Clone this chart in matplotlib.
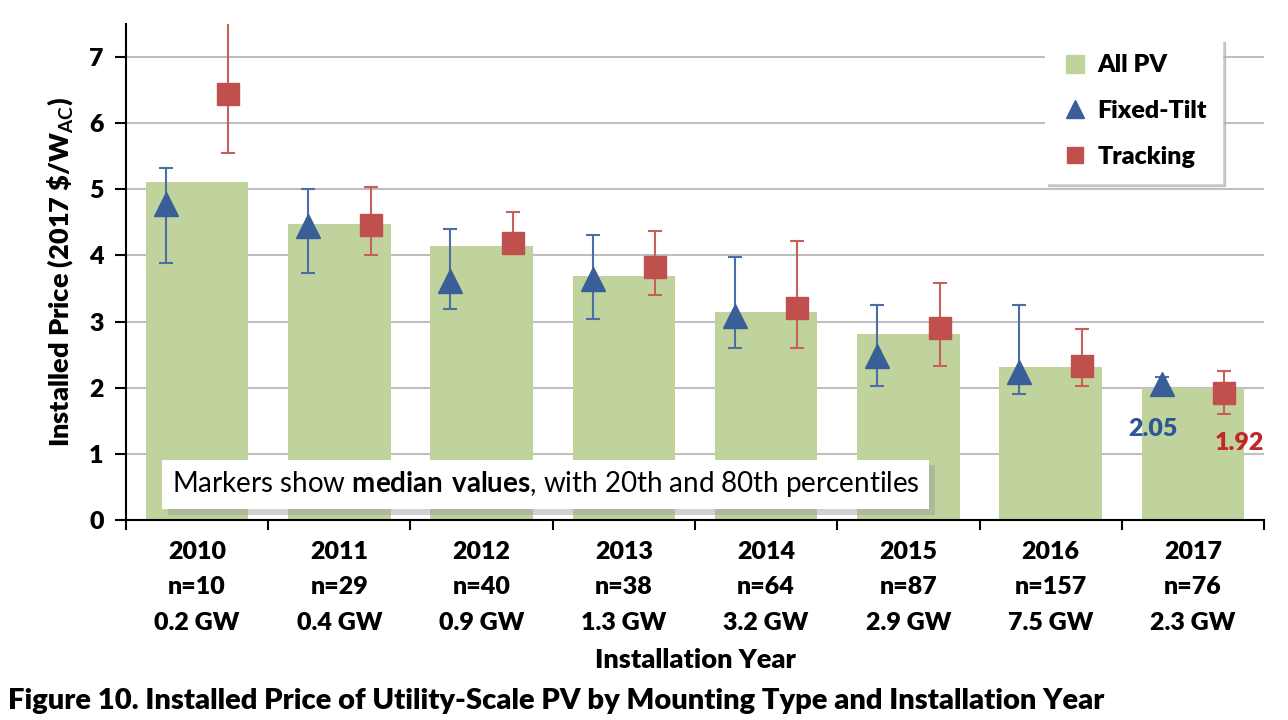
import numpy as np
import matplotlib.pyplot as plt
from matplotlib.lines import Line2D
import matplotlib.patheffects as pe

plt.rcParams['font.family'] = ['Lato', 'DejaVu Sans']
plt.rcParams['mathtext.fontset'] = 'custom'
plt.rcParams['mathtext.rm'] = 'Lato'
plt.rcParams['mathtext.bf'] = 'Lato:bold'

# data
years = ['2010', '2011', '2012', '2013', '2014', '2015', '2016', '2017']
counts = [10, 29, 40, 38, 64, 87, 157, 76]
capacity = ['0.2', '0.4', '0.9', '1.3', '3.2', '2.9', '7.5', '2.3']

all_pv = [5.11, 4.47, 4.14, 3.69, 3.14, 2.81, 2.32, 2.00]

fixed_med = [4.78, 4.45, 3.62, 3.64, 3.09, 2.48, 2.24, 2.05]
fixed_p20 = [3.88, 3.73, 3.19, 3.04, 2.60, 2.03, 1.91, 2.00]
fixed_p80 = [5.32, 5.00, 4.40, 4.31, 3.98, 3.25, 3.25, 2.16]

track_med = [6.44, 4.46, 4.19, 3.82, 3.21, 2.91, 2.33, 1.92]
track_p20 = [5.55, 4.00, 4.12, 3.40, 2.60, 2.33, 2.03, 1.60]
track_p80 = [7.70, 5.04, 4.65, 4.37, 4.22, 3.58, 2.89, 2.25]

GREEN = '#C0D39C'
BLUE = '#3A5F98'
RED = '#C0504D'
W = 'heavy'

fig = plt.figure(figsize=(12.88, 7.2), dpi=100)
ax = fig.add_axes([0.0978, 0.2778, 0.8836, 0.6889])

x = np.arange(len(years))
ax.bar(x, all_pv, width=0.72, color=GREEN, zorder=2)

off = 0.22
fm = np.array(fixed_med)
tm = np.array(track_med)
ax.errorbar(x - off, fm, yerr=[fm - np.array(fixed_p20), np.array(fixed_p80) - fm],
            fmt='^', ms=17, color=BLUE, ecolor='#4A6EA5', elinewidth=1.5,
            capsize=5, capthick=1.5, zorder=4)
ax.errorbar(x + off, tm, yerr=[tm - np.array(track_p20), np.array(track_p80) - tm],
            fmt='s', ms=16, color=RED, ecolor='#C8605A', elinewidth=1.5,
            capsize=5, capthick=1.5, zorder=4)

ax.set_xlim(-0.5, len(years) - 0.5)
ax.set_ylim(0, 7.5)
ax.set_yticks(range(0, 8))
ax.yaxis.grid(True, color='#BFBFBF', linewidth=1.5, zorder=0)
ax.set_axisbelow(True)

ax.set_xticks(x)
ax.set_xticklabels([f'{y}\nn={n}\n{c} GW' for y, n, c in zip(years, counts, capacity)],
                   fontsize=18, fontweight=W, linespacing=1.75)
ax.set_xticks(np.arange(-0.5, len(years)), minor=True)
ax.tick_params(axis='x', which='major', length=0, pad=15)
ax.tick_params(axis='x', which='minor', length=7, width=1.5, direction='out')
ax.tick_params(axis='y', length=8, width=1.5, labelsize=18, pad=8)
for lab in ax.get_yticklabels():
    lab.set_fontweight(W)

for s in ['top', 'right']:
    ax.spines[s].set_visible(False)
ax.spines['left'].set_linewidth(1.5)
ax.spines['bottom'].set_linewidth(1.5)

ax.set_ylabel(r'Installed Price (2017 \$/W$_{\mathbf{AC}}$)', fontsize=19.5,
              fontweight=W, labelpad=10)
ax.set_xlabel('Installation Year', fontsize=19.5, fontweight=W, labelpad=10)

# value labels for 2017
ax.text(7 - 0.28, 1.38, f'{fixed_med[-1]:.2f}', color='#2F5597', fontsize=18,
        fontweight=W, ha='center', va='center', zorder=5)
ax.text(7 + 0.33, 1.16, f'{track_med[-1]:.2f}', color='#C0282A', fontsize=18,
        fontweight=W, ha='center', va='center', zorder=5)

note = ax.text(2.45, 0.54, r'Markers show $\mathbf{median\ values}$, with 20th and 80th percentiles',
               fontsize=20, ha='center', va='center', zorder=6,
               bbox=dict(boxstyle='square,pad=0.35', fc='white', ec='none'))
note.get_bbox_patch().set_path_effects([pe.withSimplePatchShadow(offset=(4, -4), shadow_rgbFace='#999999', alpha=0.45), pe.Normal()])

handles = [Line2D([], [], marker='s', ls='none', color=GREEN, ms=13),
           Line2D([], [], marker='^', ls='none', color=BLUE, ms=13),
           Line2D([], [], marker='s', ls='none', color=RED, ms=12)]
leg = ax.legend(handles, ['All PV', 'Fixed-Tilt', 'Tracking'], loc='upper right',
                bbox_to_anchor=(0.974, 0.994), fancybox=False, shadow={'color': '#AAAAAA', 'alpha': 0.6},
                framealpha=1, edgecolor='white', labelspacing=0.95, handletextpad=0.3,
                handlelength=1.2, borderpad=0.6, prop={'weight': W, 'size': 18})
leg.set_zorder(7)

fig.text(0.006, 0.027, 'Figure 10. Installed Price of Utility-Scale PV by Mounting Type and Installation Year',
         fontsize=21, fontweight=W, ha='left', va='center')

fig.savefig('out.png', dpi=100)
